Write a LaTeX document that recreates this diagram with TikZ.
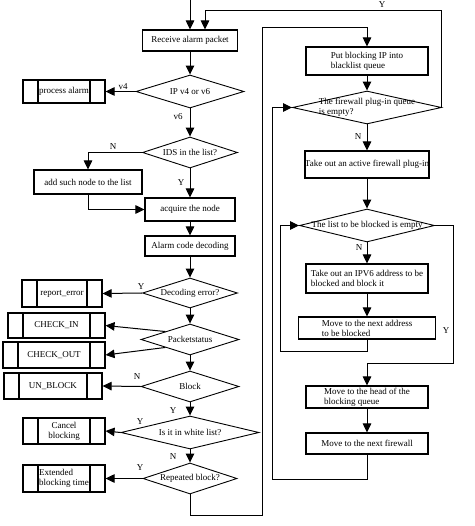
\documentclass[tikz,border=0pt]{standalone}
\usepackage{fontspec}
\setmainfont{Liberation Serif}
\usetikzlibrary{shapes.geometric,arrows.meta,calc}
\begin{document}
\begin{tikzpicture}[x=1pt,y=-1pt,
  font=\fontsize{9}{10}\selectfont,
  box/.style={draw,line width=1.1pt,inner sep=0pt,align=center},
  dia/.style={draw,diamond,line width=0.9pt,inner sep=0pt},
  proc/.style={box,path picture={
     \draw[line width=1.1pt]
       ([xshift=15pt]path picture bounding box.north west) -- ([xshift=15pt]path picture bounding box.south west)
       ([xshift=-15pt]path picture bounding box.north east) -- ([xshift=-15pt]path picture bounding box.south east);}},
  arr/.style={line width=1pt,-{Triangle[length=9pt,width=8.5pt]}},
  lab/.style={inner sep=0pt}]
\useasboundingbox (0,0) rectangle (474,526);
\fill[white] (0,0) rectangle (474,526);
% left column
\node[box,minimum width=95pt,minimum height=21pt] (recv) at (190,40.5) {Receive alarm packet};
\node[dia,minimum width=108pt,minimum height=33pt,label=center:{IP v4 or v6}] (ipv) at (190,91.5) {};
\node[proc,minimum width=82pt,minimum height=23pt] (palarm) at (64,91.5) {process alarm};
\node[dia,minimum width=95pt,minimum height=31pt,label=center:{IDS in the list?}] (ids) at (190,152.5) {};
\node[box,minimum width=108pt,minimum height=24pt] (add) at (88,182) {add such node to the list};
\node[box,minimum width=90pt,minimum height=23pt] (acq) at (190,209.5) {acquire the node};
\node[box,minimum width=90pt,minimum height=20pt] (alarm) at (190,246) {Alarm code decoding};
\node[dia,minimum width=95pt,minimum height=30pt,label=center:{Decoding error?}] (dec) at (190,293) {};
\node[proc,minimum width=80pt,minimum height=27pt] (report) at (62,293.5) {report\_error};
\node[dia,minimum width=98pt,minimum height=31pt,label=center:{Packetstatus}] (pkt) at (190,339.5) {};
\node[proc,minimum width=97pt,minimum height=25pt] (chkin) at (56.5,325.5) {CHECK\_IN};
\node[proc,minimum width=102pt,minimum height=26pt] (chkout) at (54,355) {CHECK\_OUT};
\node[dia,minimum width=98pt,minimum height=31pt,label=center:{Block}] (block) at (190,386.5) {};
\node[proc,minimum width=98pt,minimum height=26pt] (unblock) at (53,386) {UN\_BLOCK};
\node[dia,minimum width=138pt,minimum height=33pt,label=center:{Is it in white list?}] (white) at (190,432.5) {};
\node[proc,minimum width=82pt,minimum height=26pt] (cancel) at (64,431) {Cancel\\blocking};
\node[dia,minimum width=94pt,minimum height=31pt,label=center:{Repeated block?}] (rep) at (190,478.5) {};
\node[proc,minimum width=82pt,minimum height=27pt,align=left] (ext) at (64,478.5) {Extended\\blocking time};
% right column
\node[box,align=left,minimum width=122pt,minimum height=28pt] (put) at (367,61) {Put blocking IP into\\blacklist queue};
\node[dia,minimum width=149pt,minimum height=33pt,label={[align=left]center:{The firewall plug-in queue\\is empty?}}] (fw) at (367,107.5) {};
\node[box,minimum width=122pt,minimum height=27pt] (take) at (367,164.5) {Take out an active firewall plug-in};
\node[dia,minimum width=135pt,minimum height=33pt,label=center:{The list to be blocked is empty}] (lst) at (367,225.5) {};
\node[box,align=left,minimum width=122pt,minimum height=29pt] (ipv6) at (367,278.5) {Take out an IPV6 address to be\\blocked and block it};
\node[box,align=left,minimum width=137pt,minimum height=22pt] (next) at (367,328) {Move to the next address\\to be blocked};
\node[box,align=left,minimum width=122pt,minimum height=22pt] (head) at (367,397) {Move to the head of the\\blocking queue};
\node[box,minimum width=122pt,minimum height=21pt] (nfw) at (367,443.5) {Move to the next firewall};
% connectors
\coordinate (entry) at (190,0);
\draw[arr] (entry) -- (recv);
\coordinate (rin) at ([xshift=15pt]recv.north);
\coordinate (ytop) at (0,11);
\draw[arr] (fw.east) |- (rin |- ytop) -- (rin);
\draw[arr] (recv) -- (ipv);
\draw[arr] (ipv.west) -- (palarm.east);
\draw[arr] (ipv) -- (ids);
\draw[arr] (ids.west) -| (add.north);
\draw[arr] (ids) -- (acq);
\draw[arr] (add.south) |- (acq.west);
\draw[arr] (acq) -- (alarm);
\draw[arr] (alarm) -- (dec);
\draw[arr] (dec.west) -- (report.east);
\draw[arr] (dec) -- (pkt);
\draw[arr] (pkt.north west) -- (chkin.east);
\draw[arr] (pkt.south west) -- (chkout.east);
\draw[arr] (pkt) -- (block);
\draw[arr] (block.west) -- (unblock.east);
\draw[arr] (block) -- (white);
\draw[arr] (white.west) -- (cancel.east);
\draw[arr] (white) -- (rep);
\draw[arr] (rep.west) -- (ext.east);
\coordinate (b1) at (262,515);
\coordinate (b2) at (262,28);
\draw[arr] (rep.south) |- (b1) -- (b2) -| (put.north);
\draw[arr] (put) -- (fw);
\draw[arr] (fw) -- (take);
\draw[arr] (take) -- (lst);
\draw[arr] (lst) -- (ipv6);
\draw[arr] (ipv6) -- (next);
\coordinate (c1) at (280,351);
\draw[arr] (next.south) |- (c1) |- (lst.west);
\coordinate (d1) at (453,363);
\draw[arr] (lst.east) -| (d1) -| (head.north);
\draw[arr] (head) -- (nfw);
\coordinate (e1) at (272,479);
\draw[arr] (nfw.south) |- (e1) |- (fw.west);
% labels
\node[lab] (l1) at (382,5) {Y};
\node[lab] (l2) at (123,87) {v4};
\node[lab] (l3) at (178,117) {v6};
\node[lab] (l4) at (113,147) {N};
\node[lab] (l5) at (181,183) {Y};
\node[lab] (l6) at (141,287) {Y};
\node[lab] (l7) at (137,377) {N};
\node[lab] (l8) at (173,411) {Y};
\node[lab] (l9) at (140,422) {Y};
\node[lab] (l10) at (173,457) {N};
\node[lab] (l11) at (140,468) {Y};
\node[lab] (l12) at (358,137) {N};
\node[lab] (l13) at (359,248) {N};
\node[lab] (l14) at (446,331) {Y};
\end{tikzpicture}
\end{document}
